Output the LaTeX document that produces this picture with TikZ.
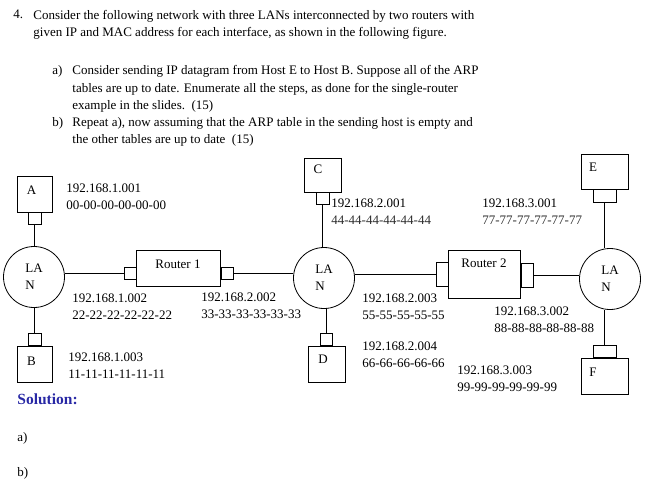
\documentclass[tikz,border=0pt]{standalone}
\usepackage{fontspec}
\setmainfont{Liberation Serif}
\definecolor{solazul}{RGB}{40,40,165}
\begin{document}
\begin{tikzpicture}[x=1pt, y=-1pt, line width=0.8pt,
  font=\fontsize{13}{17}\selectfont,
  host/.style={draw, inner sep=0},
  iface/.style={draw, minimum width=12, minimum height=12, inner sep=0},
  lan/.style={draw, circle, minimum size=61, inner sep=0, align=left},
  rtr/.style={draw, minimum width=84, minimum height=36, inner sep=0},
  txt/.style={anchor=north west, inner sep=0, align=left},
  addr/.style={txt, font=\fontsize{13}{16.5}\selectfont}]
  \useasboundingbox (0,0) rectangle (646,488);
  % enunciado
  \node[txt] (num) at (13,10) {4.};
  \node[txt] (enun) at (33,10) {Consider the following network with three LANs interconnected by two routers with\\
    given IP and MAC address for each interface, as shown in the following figure.};
  \node[txt] (qa) at (52,65) {a)};
  \node[txt, font=\fontsize{13}{17.5}\selectfont] (pa) at (72,65) {Consider sending IP datagram from Host E to Host B. Suppose all of the ARP\\
    tables are up to date. Enumerate all the steps, as done for the single-router\\
    example in the slides.\ \ (15)};
  \node[txt] (qb) at (52,117.5) {b)};
  \node[txt] (pb) at (72,117.5) {Repeat a), now assuming that the ARP table in the sending host is empty and\\
    the other tables are up to date\ \ (15)};
  % as tres LANs
  \node[lan] (lan1) at (34,277) {LA\\N};
  \node[lan] (lan2) at (324,278) {LA\\N};
  \node[lan] (lan3) at (610,279) {LA\\N};
  % roteadores e as suas interfaces
  \node[rtr, label={[name=r1t, yshift=4]center:Router 1}] (r1) at (178,268) {};
  \node[iface] (r1l) at (130,273) {};
  \node[iface] (r1r) at (227,273) {};
  \node[rtr, minimum width=72, minimum height=48,
    label={[name=r2t, yshift=11]center:Router 2}] (r2) at (484,274) {};
  \node[iface, minimum height=24] (r2l) at (442,274) {};
  \node[iface, minimum height=24] (r2r) at (527,275) {};
  \draw (lan1.east |- r1l) -- (r1l);
  \draw (r1r) -- (r1r -| lan2.west);
  \draw (lan2.east |- r2l) -- (r2l);
  \draw (r2r) -- (r2r -| lan3.west);
  % hosts: (nome, x, y, largura, altura, interface, deslocamento do rotulo, lado)
  \foreach \hn/\hx/\hy/\hw/\hh/\iw/\ih/\dx/\dy/\ia/\hb in {
    A/34.5/194/35/36/13/12/-3/4/north/south, B/34.5/364/35/36/13/12/-3/3/south/north,
    C/322.5/175/37/34/13/12/-4.5/6/north/south, D/326.5/364/37/36/12/12/-3.5/5/south/north,
    E/604.5/171.5/47/35/23/13/-11.5/4.5/north/south, F/604.5/376/47/36/23/12/-11.5/4/south/north}
  {
    \node[host, minimum width=\hw, minimum height=\hh,
      label={[xshift=\dx, yshift=\dy]center:\hn}] (\hn) at (\hx,\hy) {};
    \node[iface, minimum width=\iw, minimum height=\ih, anchor=\ia] (\hn-if) at (\hn.\hb) {};
  }
  \foreach \hn/\ln/\lb in {A/lan1/north, B/lan1/south, C/lan2/north,
    D/lan2/south, E/lan3/north, F/lan3/south}
    \draw (\hn-if) -- (\hn-if |- \ln.\lb);
  % enderecos IP e MAC; a cor da segunda linha vai nos dados
  \foreach \ax/\ay/\aip/\amac/\acor [count=\k] in {
    66/188/192.168.1.001/00-00-00-00-00-00/black, 72/298/192.168.1.002/22-22-22-22-22-22/black,
    201/297/192.168.2.002/33-33-33-33-33-33/black, 331/203/192.168.2.001/44-44-44-44-44-44/black!82,
    482/203/192.168.3.001/77-77-77-77-77-77/black!82, 362/298/192.168.2.003/55-55-55-55-55/black,
    494/311/192.168.3.002/88-88-88-88-88-88/black, 68/357/192.168.1.003/11-11-11-11-11-11/black,
    362/346/192.168.2.004/66-66-66-66-66/black, 457/370/192.168.3.003/99-99-99-99-99-99/black}
    \node[addr] (end\k) at (\ax,\ay-4.4) {\aip\\\textcolor{\acor}{\amac}};
  % solucao
  \node[txt, font=\fontsize{15.5}{18}\selectfont\bfseries, text=solazul] (sol) at (17,393) {Solution:};
  \node[txt] (sa) at (17,432.5) {a)};
  \node[txt] (sb) at (17,467.5) {b)};
\end{tikzpicture}
\end{document}
